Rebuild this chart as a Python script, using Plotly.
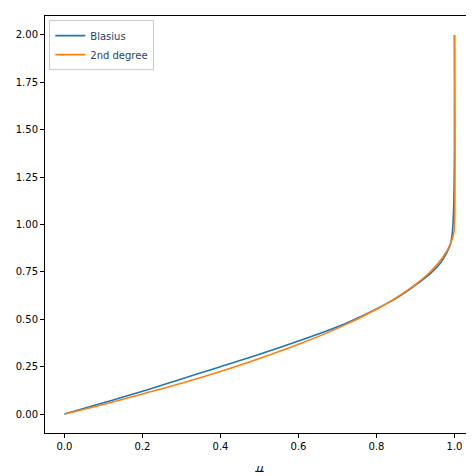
import plotly.graph_objects as go

blasius_x = [0, 0.1, 0.2, 0.3, 0.4, 0.5, 0.6, 0.7, 0.8, 0.85, 0.9, 0.94, 0.965, 0.98, 0.99, 0.995, 0.998, 1.0, 1.0]
blasius_y = [0, 0.06, 0.12, 0.185, 0.25, 0.315, 0.385, 0.46, 0.555, 0.61, 0.68, 0.745, 0.8, 0.85, 0.9, 0.97, 1.1, 1.4, 2.0]
poly_x = [0, 0.1, 0.2, 0.3, 0.4, 0.5, 0.6, 0.7, 0.8, 0.85, 0.9, 0.94, 0.97, 0.99, 0.998, 1.0, 1.0]
poly_y = [0, 0.05, 0.106, 0.163, 0.225, 0.293, 0.368, 0.452, 0.553, 0.613, 0.684, 0.755, 0.827, 0.9, 0.955, 1.0, 2.0]

fig = go.Figure()
fig.add_trace(go.Scatter(x=blasius_x, y=blasius_y, mode="lines", name="Blasius",
                         line=dict(color="#1f77b4", width=1.6, shape="spline")))
fig.add_trace(go.Scatter(x=poly_x, y=poly_y, mode="lines", name="2nd degree",
                         line=dict(color="#ff7f0e", width=1.6, shape="spline")))

ax = dict(showgrid=False, zeroline=False, showline=True, mirror=True, linecolor="black",
          ticks="outside", ticklen=4, tickcolor="black", tickfont=dict(size=10, color="black"))
fig.update_layout(
    width=474, height=476, plot_bgcolor="white", paper_bgcolor="white",
    margin=dict(l=37, r=8, t=8, b=51, autoexpand=False),
    font=dict(family="DejaVu Sans"),
    xaxis=dict(range=[-0.05, 1.05], tickvals=[0, 0.2, 0.4, 0.6, 0.8, 1.0],
               ticktext=["0.0", "0.2", "0.4", "0.6", "0.8", "1.0"], **ax),
    yaxis=dict(range=[-0.1, 2.1], tickvals=[0, 0.25, 0.5, 0.75, 1.0, 1.25, 1.5, 1.75, 2.0],
               ticktext=["0.00", "0.25", "0.50", "0.75", "1.00", "1.25", "1.50", "1.75", "2.00"], **ax),
    legend=dict(x=0.01, y=0.99, xanchor="left", yanchor="top", bgcolor="white",
                bordercolor="#cccccc", borderwidth=1, font=dict(size=10)),
    annotations=[dict(text="<i>u</i><br><i>U</i>", x=0.5, y=-0.065, xref="paper", yref="paper",
                      showarrow=False, yanchor="top", font=dict(size=11, color="black"))],
    shapes=[dict(type="line", xref="paper", yref="paper", x0=0.49, x1=0.51,
                 y0=-0.092, y1=-0.092, line=dict(color="black", width=1))],
)
fig.write_html("out.html")
